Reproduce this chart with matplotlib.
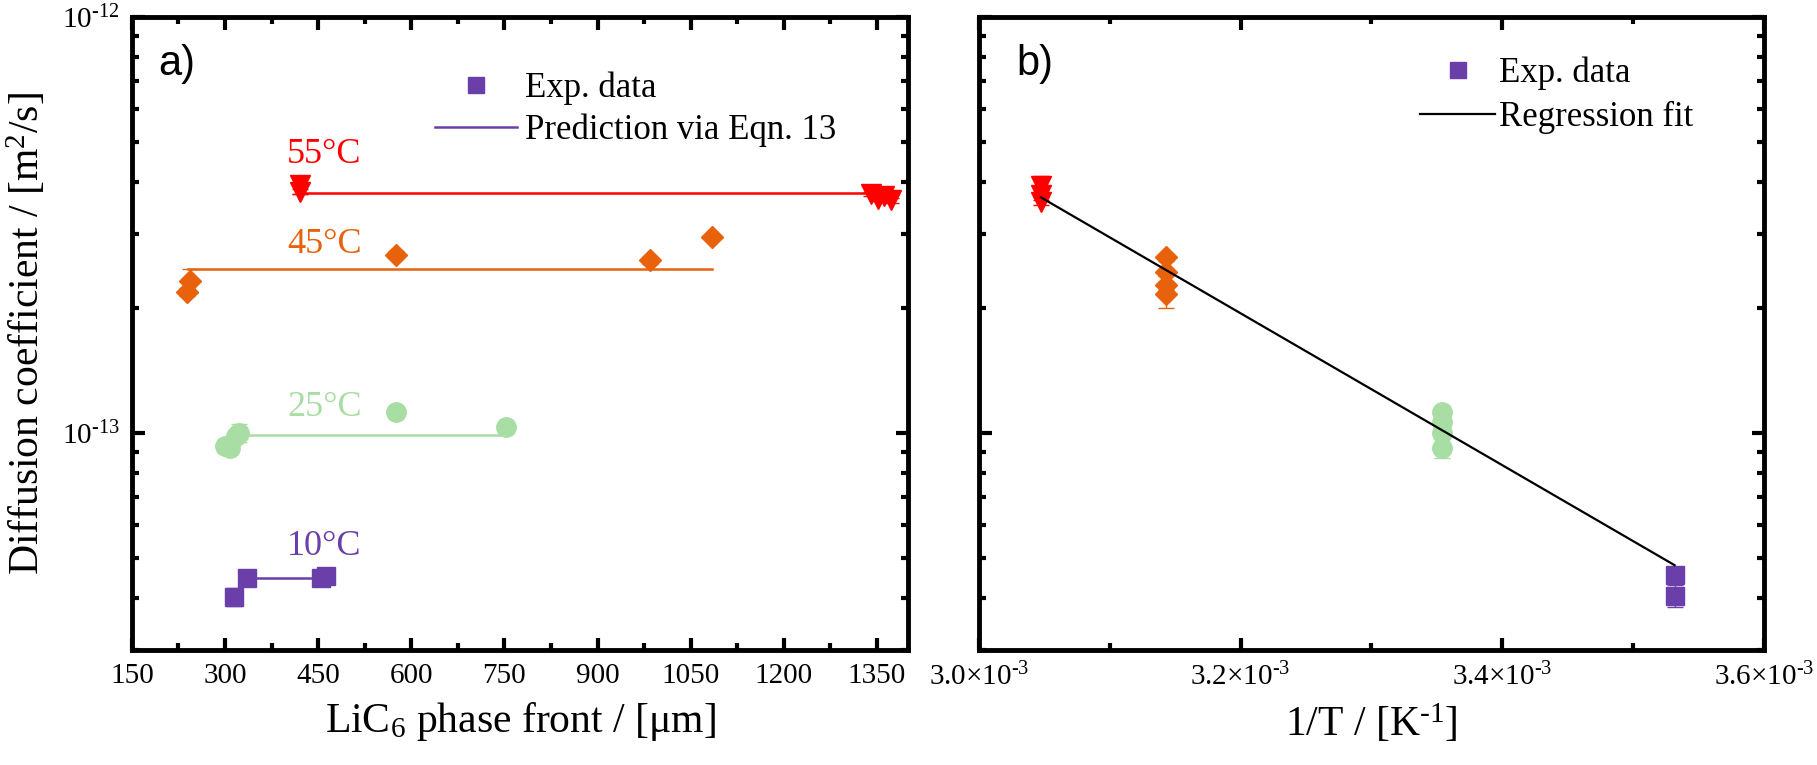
import matplotlib
matplotlib.use('Agg')
import matplotlib.pyplot as plt
import numpy as np
from matplotlib.lines import Line2D
from matplotlib.ticker import FixedLocator, FixedFormatter, LogLocator, NullFormatter, MultipleLocator

plt.rcParams['font.family'] = 'Liberation Serif'
plt.rcParams['mathtext.fontset'] = 'custom'
plt.rcParams['mathtext.rm'] = 'Liberation Serif'
plt.rcParams['mathtext.it'] = 'Liberation Serif:italic'
plt.rcParams['mathtext.bf'] = 'Liberation Serif:bold'

# ---- Data: panel a) (D vs LiC6 phase front position) ----
x55 = [420, 420, 1340, 1352, 1362, 1372]
y55 = [3.95e-13, 3.80e-13, 3.75e-13, 3.65e-13, 3.70e-13, 3.62e-13]
e55 = [0.2e-13, 0.05e-13, 0.05e-13, 0.05e-13, 0.05e-13, 0.05e-13]
pred55_x = [420, 1365]
pred55_y = 3.77e-13

x45 = [238, 244, 575, 985, 1085]
y45 = [2.18e-13, 2.32e-13, 2.68e-13, 2.60e-13, 2.96e-13]
e45 = [0.05e-13, 0.15e-13, 0.05e-13, 0.05e-13, 0.0]
pred45_x = [240, 1085]
pred45_y = 2.48e-13

x25 = [300, 308, 318, 322, 575, 752]
y25 = [9.3e-14, 9.2e-14, 9.8e-14, 1.0e-13, 1.12e-13, 1.03e-13]
e25 = [0.2e-14, 0.2e-14, 0.2e-14, 0.5e-14, 0.1e-14, 0.1e-14]
pred25_x = [318, 750]
pred25_y = 9.85e-14

x10 = [315, 335, 455, 462]
y10 = [4.02e-14, 4.48e-14, 4.48e-14, 4.52e-14]
e10 = [0.2e-14, 0.2e-14, 0.05e-14, 0.05e-14]
pred10_x = [335, 458]
pred10_y = 4.48e-14

temp_labels = ['55°C', '45°C', '25°C', '10°C']
temp_label_y = [4.67e-13, 2.83e-13, 1.15e-13, 5.33e-14]

# ---- Data: panel b) (Arrhenius plot) ----
T_C = [55, 45, 25, 10]
b55 = [3.93e-13, 3.74e-13, 3.58e-13]
b45 = [2.64e-13, 2.43e-13, 2.26e-13, 2.15e-13]
b25 = [1.12e-13, 1.06e-13, 1.00e-13, 9.2e-14]
b10 = [4.55e-14, 4.05e-14]
b55_err = [0.22e-13, 0.05e-13, 0.05e-13]
b45_err = [0.05e-13, 0.05e-13, 0.05e-13, 0.15e-13]
b25_err = [0.05e-14, 0.05e-14, 0.05e-14, 0.5e-14]
b10_err = [0.05e-14, 0.25e-14]
fit_y = [3.68e-13, 4.8e-14]   # regression fit at 55 and 10 degC

colors = ['#FF0000', '#E8620C', '#A8DEA4', '#6A3FAA']
markers = ['v', 'D', 'o', 's']
msizes = [14, 11, 14, 13]

fig = plt.figure(figsize=(18.17, 7.65), dpi=100)
ax1 = fig.add_axes([0.0726, 0.1503, 0.4271, 0.8275])
ax2 = fig.add_axes([0.5388, 0.1503, 0.4320, 0.8275])

# ---- panel a ----
groups = [(x55, y55, e55, pred55_x, pred55_y),
          (x45, y45, e45, pred45_x, pred45_y),
          (x25, y25, e25, pred25_x, pred25_y),
          (x10, y10, e10, pred10_x, pred10_y)]
for i, (xs, ys, es, px, py) in enumerate(groups):
    ax1.plot(px, [py, py], color=colors[i], lw=1.8, zorder=2)
    ax1.errorbar(xs, ys, yerr=es, fmt=markers[i], color=colors[i], ms=msizes[i],
                 mec=colors[i], ecolor=colors[i], elinewidth=1, capsize=6, capthick=1, zorder=3)
    ax1.text(400, temp_label_y[i], temp_labels[i], color=colors[i], fontsize=26,
             ha='left', va='center')

ax1.set_xlim(150, 1400)
ax1.xaxis.set_major_locator(MultipleLocator(150))
ax1.xaxis.set_minor_locator(MultipleLocator(75))
ax1.set_xlabel('LiC$_6$ phase front / [μm]', fontsize=30, labelpad=8)
ax1.set_ylabel('Diffusion coefficient / [m$^2$/s]', fontsize=30, labelpad=10)
ax1.text(0.034, 0.925, 'a)', transform=ax1.transAxes, fontsize=30,
         family='Liberation Sans', va='center', ha='left')

leg_handles = [Line2D([], [], marker='s', color=colors[3], ls='none', ms=12),
               Line2D([], [], color=colors[3], lw=1.8)]
ax1.legend(leg_handles, ['Exp. data', 'Prediction via Eqn. 13'], loc='upper left',
           bbox_to_anchor=(0.39, 0.914), frameon=False, fontsize=25,
           handlelength=2.36, handletextpad=0.23, labelspacing=0.25,
           borderpad=0, borderaxespad=0)

# ---- panel b ----
invT = [1.0 / (t + 273.15) for t in T_C]
bsets = [(b55, b55_err), (b45, b45_err), (b25, b25_err), (b10, b10_err)]
ax2.plot([invT[0], invT[3]], fit_y, color='black', lw=1.6, zorder=4)
for i, (ys, es) in enumerate(bsets):
    ax2.errorbar([invT[i]] * len(ys), ys, yerr=es, fmt=markers[i], color=colors[i],
                 ms=msizes[i], mec=colors[i], ecolor=colors[i], elinewidth=1,
                 capsize=6, capthick=1, zorder=3)

ax2.set_xlim(3.0e-3, 3.6e-3)
ax2.set_xticks([3.0e-3, 3.2e-3, 3.4e-3, 3.6e-3])
ax2.set_xticklabels([r'3.0$\times$10$^{\text{-3}}$', r'3.2$\times$10$^{\text{-3}}$',
                     r'3.4$\times$10$^{\text{-3}}$', r'3.6$\times$10$^{\text{-3}}$'])
ax2.xaxis.set_minor_locator(FixedLocator([3.1e-3, 3.3e-3, 3.5e-3]))
ax2.set_xlabel(r'1/T / [K$^{\text{-1}}$]', fontsize=30, labelpad=8)
ax2.text(0.048, 0.925, 'b)', transform=ax2.transAxes, fontsize=30,
         family='Liberation Sans', va='center', ha='left')

leg_handles2 = [Line2D([], [], marker='s', color=colors[3], ls='none', ms=12),
                Line2D([], [], color='black', lw=1.6)]
ax2.legend(leg_handles2, ['Exp. data', 'Regression fit'], loc='upper left',
           bbox_to_anchor=(0.562, 0.938), frameon=False, fontsize=25,
           handlelength=2.16, handletextpad=0.12, labelspacing=0.33,
           borderpad=0, borderaxespad=0)

# ---- shared styling ----
for ax in (ax1, ax2):
    ax.set_yscale('log')
    ax.set_ylim(3e-14, 1e-12)
    ax.yaxis.set_major_locator(FixedLocator([1e-13, 1e-12]))
    ax.yaxis.set_major_formatter(FixedFormatter([r'10$^{\text{-13}}$', r'10$^{\text{-12}}$']))
    ax.yaxis.set_minor_locator(LogLocator(base=10, subs=np.arange(2, 10)))
    ax.yaxis.set_minor_formatter(NullFormatter())
    for sp in ax.spines.values():
        sp.set_linewidth(3.5)
    ax.tick_params(which='both', direction='in', top=True, right=True, width=3.0)
    ax.tick_params(which='major', length=9, labelsize=21, pad=9)
    ax.tick_params(which='minor', length=5)

ax2.tick_params(axis='y', labelleft=False)

fig.savefig('out.png', dpi=100)
